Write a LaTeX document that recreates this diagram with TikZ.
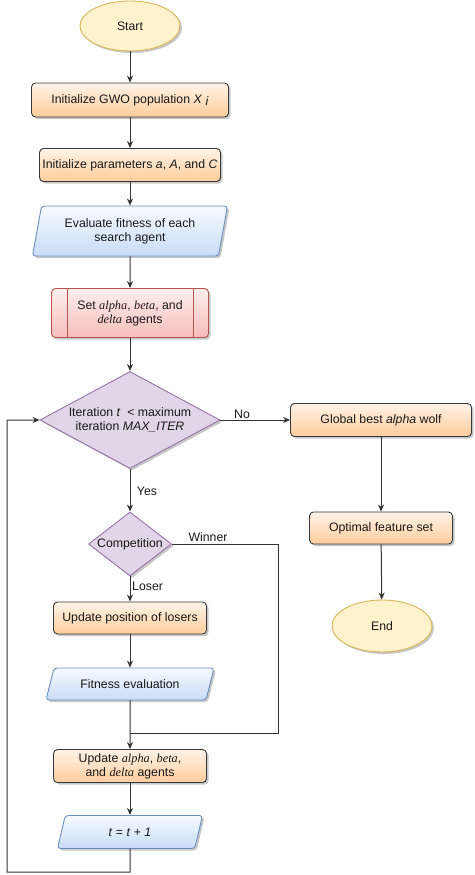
\documentclass[tikz,border=0pt]{standalone}
\usepackage{fontspec}
\setmainfont{Liberation Sans}
\newfontfamily\SerifFam{Liberation Serif}
\usepackage{tikz}
\usetikzlibrary{shapes.geometric}
\usetikzlibrary{arrows.meta}
\usetikzlibrary{shadows}
\usepackage{xcolor}
\definecolor{OrTop}{RGB}{255,243,231}
\definecolor{OrBot}{RGB}{255,205,156}
\definecolor{OrLine}{RGB}{54,57,61}
\definecolor{BlTop}{RGB}{246,250,255}
\definecolor{BlBot}{RGB}{200,220,246}
\definecolor{BlLine}{RGB}{108,142,191}
\definecolor{RdTop}{RGB}{253,238,237}
\definecolor{RdBot}{RGB}{245,190,187}
\definecolor{RdLine}{RGB}{184,84,80}
\definecolor{PuFill}{RGB}{225,213,231}
\definecolor{PuLine}{RGB}{150,115,166}
\definecolor{YeFill}{RGB}{255,242,204}
\definecolor{YeLine}{RGB}{214,182,86}
\newcommand{\SerIt}[1]{{\SerifFam\itshape #1}}
\tikzstyle{BoxShadow}=[drop shadow={shadow xshift=2pt,shadow yshift=-2pt,opacity=0.22,fill=black}]
\tikzstyle{BaseText}=[font=\fontsize{12.3}{14.3}\selectfont,align=center,text=black!90,line width=0.9pt]
\tikzstyle{ProcBox}=[BaseText,rectangle,rounded corners=4pt,draw=OrLine,top color=OrTop,bottom color=OrBot,BoxShadow]
\tikzstyle{SubProc}=[BaseText,rectangle,rounded corners=4pt,draw=RdLine,top color=RdTop,bottom color=RdBot,BoxShadow]
\tikzstyle{IOBox}=[BaseText,trapezium,trapezium stretches body,rounded corners=3pt,draw=BlLine,top color=BlTop,bottom color=BlBot,BoxShadow]
\tikzstyle{DecNode}=[BaseText,diamond,inner sep=0pt,draw=PuLine,fill=PuFill,BoxShadow]
\tikzstyle{TermNode}=[BaseText,ellipse,draw=YeLine,fill=YeFill,BoxShadow]
\tikzstyle{EdgeFlow}=[black!80,line width=1pt,-{Stealth[length=7pt,width=6pt]}]
\tikzstyle{EdgeLine}=[black!80,line width=1pt]
\tikzstyle{EdgeLabel}=[font=\fontsize{12.3}{14.3}\selectfont,text=black!90,inner sep=1pt]

\begin{document}
\begin{tikzpicture}[x=1pt,y=-1pt]
        \useasboundingbox (0,0) rectangle (474,875);
        % main column
        \node[TermNode,minimum width=100pt,minimum height=50pt](Start)at(130,26){Start};
        \node[ProcBox,minimum width=197pt,minimum height=34pt](InitPop)at(130,100){Initialize GWO population \textit{X} \raisebox{-0.35ex}{\textit{i}}};
        \node[ProcBox,minimum width=181pt,minimum height=33pt,inner sep=1pt](InitPar)at(130,165){Initialize parameters \textit{a}, \textit{A}, and \textit{C}};
        \node[IOBox,trapezium left angle=72,trapezium right angle=108,minimum width=195pt,minimum height=50pt,inner sep=1pt](Eval)at(130,231){Evaluate fitness of each\\search agent};
        \node[SubProc,minimum width=157pt,minimum height=49pt](SetAg)at(130,313){Set \SerIt{alpha}, \SerIt{beta}, and\\\SerIt{delta} agents};
        \node[DecNode,aspect=2,minimum width=180pt,minimum height=97pt](Iter)at(130,420){Iteration \textit{t}~~< maximum\\iteration \textit{MAX\_ITER}};
        \node[DecNode,aspect=1.3,minimum width=83pt,minimum height=64pt](Comp)at(130,544){Competition};
        \node[ProcBox,minimum width=153pt,minimum height=32pt](UpdPos)at(130,618){Update position of losers};
        \node[IOBox,trapezium left angle=63,trapezium right angle=117,minimum width=168pt,minimum height=32pt](Fit)at(130,684){Fitness evaluation};
        \node[ProcBox,minimum width=153pt,minimum height=33pt,inner sep=1pt](UpdAl)at(130,766){Update \SerIt{alpha}, \SerIt{beta},\\and \SerIt{delta} agents};
        \node[IOBox,trapezium left angle=63,trapezium right angle=117,minimum width=145pt,minimum height=33pt](Tinc)at(130,832){\textit{t} = \textit{t} + \textit{1}};
        % right column
        \node[ProcBox,minimum width=181pt,minimum height=33pt](Glob)at(381,420){Global best \textit{alpha} wolf};
        \node[ProcBox,minimum width=143pt,minimum height=32pt](Opt)at(381,528){Optimal feature set};
        \node[TermNode,minimum width=100pt,minimum height=52pt](End)at(382,626){End};
        % sub-process bars
        \draw[RdLine,line width=0.9pt]([xshift=16pt]SetAg.north west)--([xshift=16pt]SetAg.south west);
        \draw[RdLine,line width=0.9pt]([xshift=-16pt]SetAg.north east)--([xshift=-16pt]SetAg.south east);
        % turning points
        \coordinate(WinA)at(278,544);
        \coordinate(WinB)at(278,733);
        \coordinate(WinC)at(130,733);
        \coordinate(LoopA)at(130,872);
        \coordinate(LoopB)at(7,872);
        \coordinate(LoopC)at(7,420);
        % connectors
        \draw[EdgeFlow](Start)--(InitPop);
        \draw[EdgeFlow](InitPop)--(InitPar);
        \draw[EdgeFlow](InitPar)--(Eval);
        \draw[EdgeFlow](Eval)--(SetAg);
        \draw[EdgeFlow](SetAg)--(Iter);
        \draw[EdgeFlow](Iter.east)--(Glob.west);
        \draw[EdgeFlow](Glob)--(Opt);
        \draw[EdgeFlow](Opt)--(End);
        \draw[EdgeFlow](Iter.south)--(Comp.north);
        \draw[EdgeFlow](Comp.south)--(UpdPos);
        \draw[EdgeFlow](UpdPos)--(Fit);
        \draw[EdgeFlow](Fit)--(UpdAl);
        \draw[EdgeLine](Comp.east)--(WinA)--(WinB)--(WinC);
        \draw[EdgeFlow](UpdAl)--(Tinc);
        \draw[EdgeFlow](Tinc.south)--(LoopA)--(LoopB)--(LoopC)--(Iter.west);
        % labels
        \node[EdgeLabel,fill=white](NoLab)at(242,414){No};
        \node[EdgeLabel](YesLab)at(147,491){Yes};
        \node[EdgeLabel,fill=white,anchor=west](LoseLab)at(131,586){Loser};
        \node[EdgeLabel,fill=white](WinLab)at(208,537){Winner};
    \end{tikzpicture}
\end{document}
